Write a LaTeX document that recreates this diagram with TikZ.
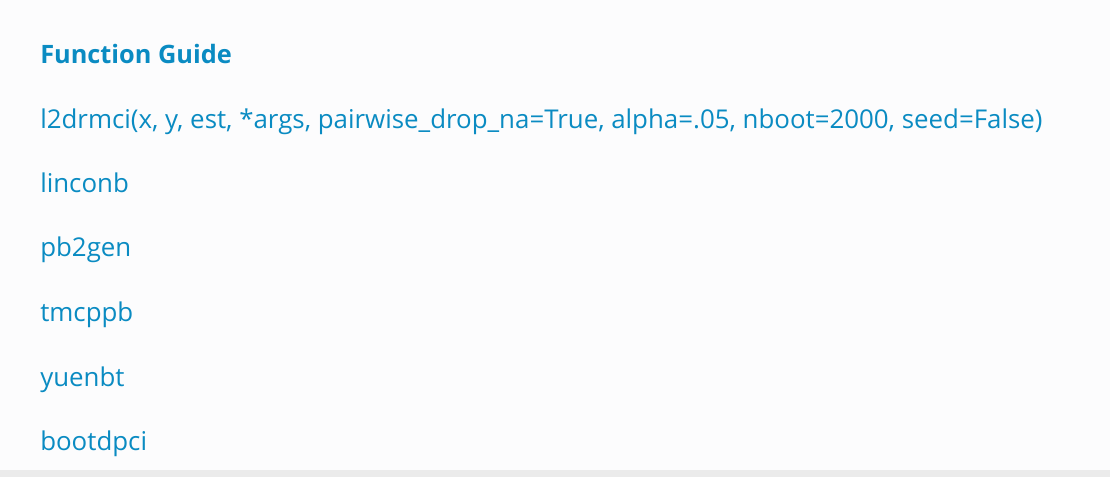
\documentclass[tikz,border=0pt]{standalone}
\usepackage{fontspec}
\setmainfont{Open Sans}
\definecolor{txt}{HTML}{0A8BC2}
\definecolor{bar}{HTML}{EBEBEB}
\definecolor{bg}{HTML}{FCFCFD}
\begin{document}
\begin{tikzpicture}[x=0.75pt,y=-0.75pt,
  item/.style={anchor=base west,inner sep=0pt,text=txt,font=\fontsize{19.4pt}{24pt}\selectfont}]
\fill[bg] (0,0) rectangle (1110,477);
\useasboundingbox (0,0) rectangle (1110,477);
\fill[bar] (0,470) rectangle (1110,477);
\node[item,font=\fontsize{19pt}{22pt}\selectfont\bfseries] (h) at (40,64) {Function Guide};
\node[item] (a) at (40,129) {l2drmci(x, y, est, *args, pairwise\_drop\_na=True, alpha=.05, nboot=2000, seed=False)};
\node[item] (b) at (40,193) {linconb};
\node[item] (c) at (40,257) {pb2gen};
\node[item] (d) at (40,321) {tmcppb};
\node[item] (e) at (40,386) {yuenbt};
\node[item] (f) at (40,450) {bootdpci};
\end{tikzpicture}
\end{document}
